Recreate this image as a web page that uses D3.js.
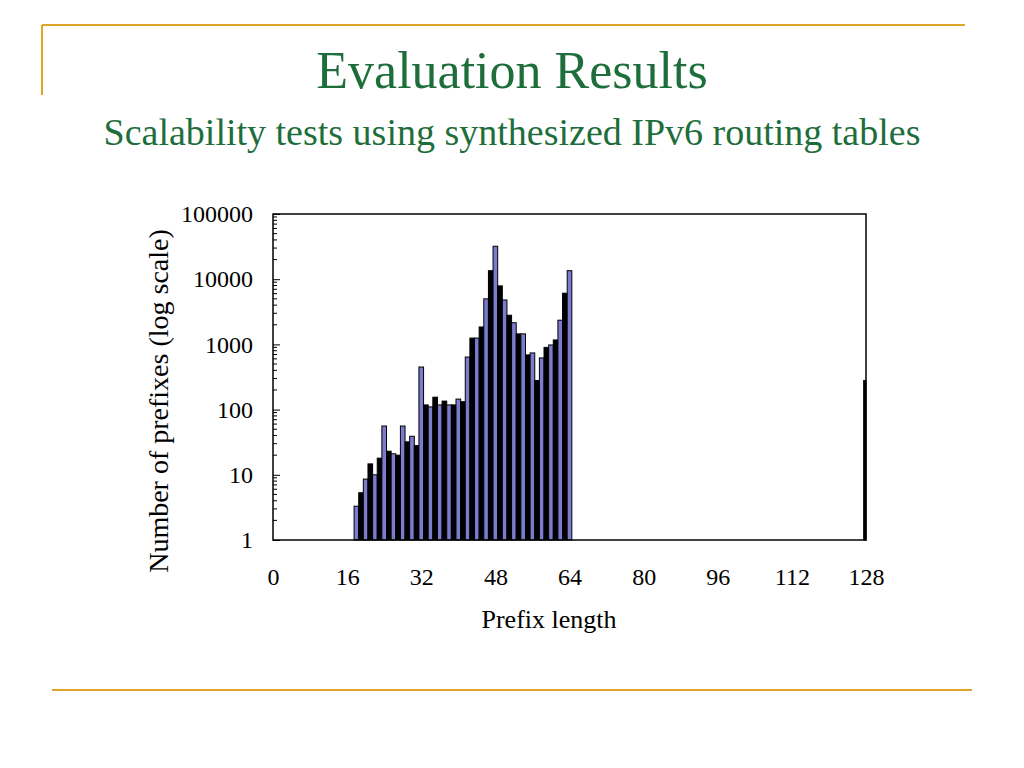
<!DOCTYPE html>
<html lang="en">
<head>
<meta charset="utf-8">
<script src="https://cdn.jsdelivr.net/npm/d3@7"></script>
<style>body{margin:0;background:#fff}</style>
</head>
<body>
<script>
var prefixLengths = d3.range(18, 65).concat([128]);
var prefixCounts = [3.3, 5.3, 8.6, 14.7, 10, 18, 56, 23, 21, 20, 56, 32, 39, 28, 450,
  118, 110, 155, 118, 135, 118, 118, 145, 132, 640, 1250, 1250, 1850, 5000, 13500,
  32000, 7900, 4800, 2800, 2150, 1450, 1450, 690, 740, 280, 620, 900, 980, 1170, 2350, 6100, 13500,
  280];
var xTicks = [0, 16, 32, 48, 64, 80, 96, 112, 128];
var yTicks = [1, 10, 100, 1000, 10000, 100000];

var svg = d3.select("body").append("svg").attr("width", 1024).attr("height", 768);
var gold = "#e0a526", green = "#1e6e3c";

svg.append("line").attr("x1", 42).attr("x2", 965).attr("y1", 25).attr("y2", 25).attr("stroke", gold).attr("stroke-width", 2);
svg.append("line").attr("x1", 42).attr("x2", 42).attr("y1", 25).attr("y2", 95).attr("stroke", gold).attr("stroke-width", 2);
svg.append("line").attr("x1", 52).attr("x2", 972).attr("y1", 690).attr("y2", 690).attr("stroke", gold).attr("stroke-width", 2);

svg.append("text").attr("x", 512).attr("y", 88).attr("text-anchor", "middle")
  .attr("font-family", "Liberation Serif").attr("font-size", 52).attr("fill", green).text("Evaluation Results");
svg.append("text").attr("x", 512).attr("y", 145).attr("text-anchor", "middle")
  .attr("font-family", "Liberation Serif").attr("font-size", 38).attr("fill", green)
  .text("Scalability tests using synthesized IPv6 routing tables");

var L = 273, R = 866, T = 214, B = 540;
var x = d3.scaleLinear().domain([0, 128]).range([L, R]);
var y = d3.scaleLog().domain([1, 100000]).range([B, T]);
var bw = x(1) - x(0);

svg.selectAll("rect.bar").data(prefixLengths).enter().append("rect")
  .attr("class", "bar")
  .attr("x", function(d){ return x(d) - bw / 2; })
  .attr("width", function(d){ return d === 128 ? bw / 2 : bw; })
  .attr("y", function(d, i){ return y(prefixCounts[i]); })
  .attr("height", function(d, i){ return B - y(prefixCounts[i]); })
  .attr("fill", function(d){ return d % 2 === 0 && d !== 128 ? "#7b7bd0" : "#000"; })
  .attr("stroke", "#000").attr("stroke-width", 1);

svg.append("rect").attr("x", L).attr("y", T).attr("width", R - L).attr("height", B - T)
  .attr("fill", "none").attr("stroke", "#000").attr("stroke-width", 1.5);

var xa = svg.append("g").attr("transform", "translate(0," + B + ")")
  .call(d3.axisBottom(x).tickValues(xTicks).tickSize(0).tickPadding(28));
xa.select(".domain").remove();
xa.selectAll("text").attr("font-family", "Liberation Serif").attr("font-size", 24).attr("fill", "#000");

var minor = [];
for (var p = 0; p < 5; p++) for (var m = 2; m < 10; m++) minor.push(m * Math.pow(10, p));
svg.selectAll("line.minor").data(minor).enter().append("line")
  .attr("x1", L).attr("x2", L + 4).attr("y1", function(d){ return y(d); }).attr("y2", function(d){ return y(d); })
  .attr("stroke", "#000");
var ya = svg.append("g").attr("transform", "translate(" + L + ",0)")
  .call(d3.axisLeft(y).tickValues(yTicks).tickFormat(d3.format("d")).tickSize(-7).tickPadding(20));
ya.select(".domain").remove();
ya.selectAll("text").attr("font-family", "Liberation Serif").attr("font-size", 24).attr("fill", "#000");

svg.append("text").attr("x", 549).attr("y", 628).attr("text-anchor", "middle")
  .attr("font-family", "Liberation Serif").attr("font-size", 26).text("Prefix length");
svg.append("text").attr("transform", "translate(168,401) rotate(-90)").attr("text-anchor", "middle")
  .attr("font-family", "Liberation Serif").attr("font-size", 28).text("Number of prefixes (log scale)");
</script>
</body>
</html>
